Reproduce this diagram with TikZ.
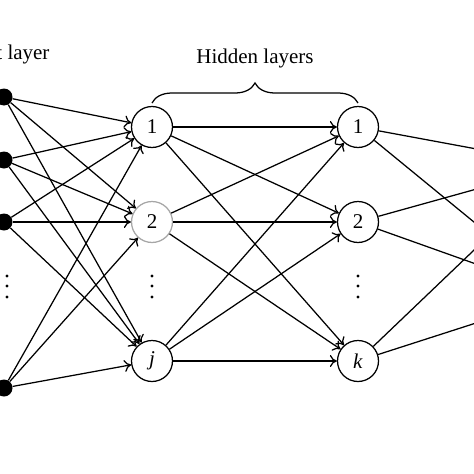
\documentclass[tikz,border=0pt]{standalone}
\usepackage{fontspec}
\setmainfont{Liberation Serif}
\usetikzlibrary{arrows.meta,decorations.pathreplacing}
\begin{document}
\begin{tikzpicture}[x=1pt,y=-1pt,
  hid/.style={circle,draw,line width=1.25pt,minimum size=41pt,inner sep=0pt,font=\fontsize{21}{25}\selectfont,fill=white},
  hidgray/.style={hid,draw=black!35},
  inp/.style={circle,fill=black,minimum size=17pt,inner sep=0pt},
  conn/.style={line width=1.25pt,-{To[length=7pt,width=12pt]}},
  plainline/.style={line width=1.25pt},
  lbl/.style={font=\fontsize{21}{25}\selectfont},
  dotmark/.style={circle,fill=black,minimum size=3.2pt,inner sep=0pt}]
\useasboundingbox (0,0) rectangle (474,474);
\clip (0,0) rectangle (474,474);
% input layer
\node[inp] (i1) at (4,97) {};
\node[inp] (i2) at (4,160) {};
\node[inp] (i3) at (4,222) {};
\node[inp] (i4) at (4,388) {};
% hidden layer A
\node[hid] (a1) at (152,127) {1};
\node[hidgray] (a2) at (152,222) {2};
\node[hid] (aj) at (152,361) {\textit{j}};
% hidden layer B
\node[hid] (b1) at (358,127) {1};
\node[hid] (b2) at (358,222) {2};
\node[hid] (bk) at (358,361) {\textit{k}};
% output (off picture)
\coordinate (o1) at (563,165);
\coordinate (o2) at (563,295);
% dots
\foreach \yy [count=\n] in {276,286,297} {
  \node[dotmark] (di\n) at (7,\yy) {};
  \node[dotmark] (da\n) at (152,\yy) {};
  \node[dotmark] (db\n) at (358,\yy) {};
}
% connections input -> A
\foreach \s in {i1,i2,i3,i4} {
  \foreach \t in {a1,a2,aj} {
    \draw[conn] (\s) -- (\t);
  }
}
% A -> B
\foreach \s in {a1,a2,aj} {
  \foreach \t in {b1,b2,bk} {
    \draw[conn] (\s) -- (\t);
  }
}
% B -> output
\foreach \s in {b1,b2,bk} {
  \draw[plainline] (\s) -- (o1);
  \draw[plainline] (\s) -- (o2);
}
% labels
\node[lbl,anchor=base east] (inlbl) at (53,59) {Input layer};
\node[lbl,anchor=base] (hidlbl) at (255,63) {Hidden layers};
\draw[line width=1.25pt,decorate,decoration={brace,amplitude=20pt}] (152,103) -- (358,103);
\end{tikzpicture}
\end{document}
